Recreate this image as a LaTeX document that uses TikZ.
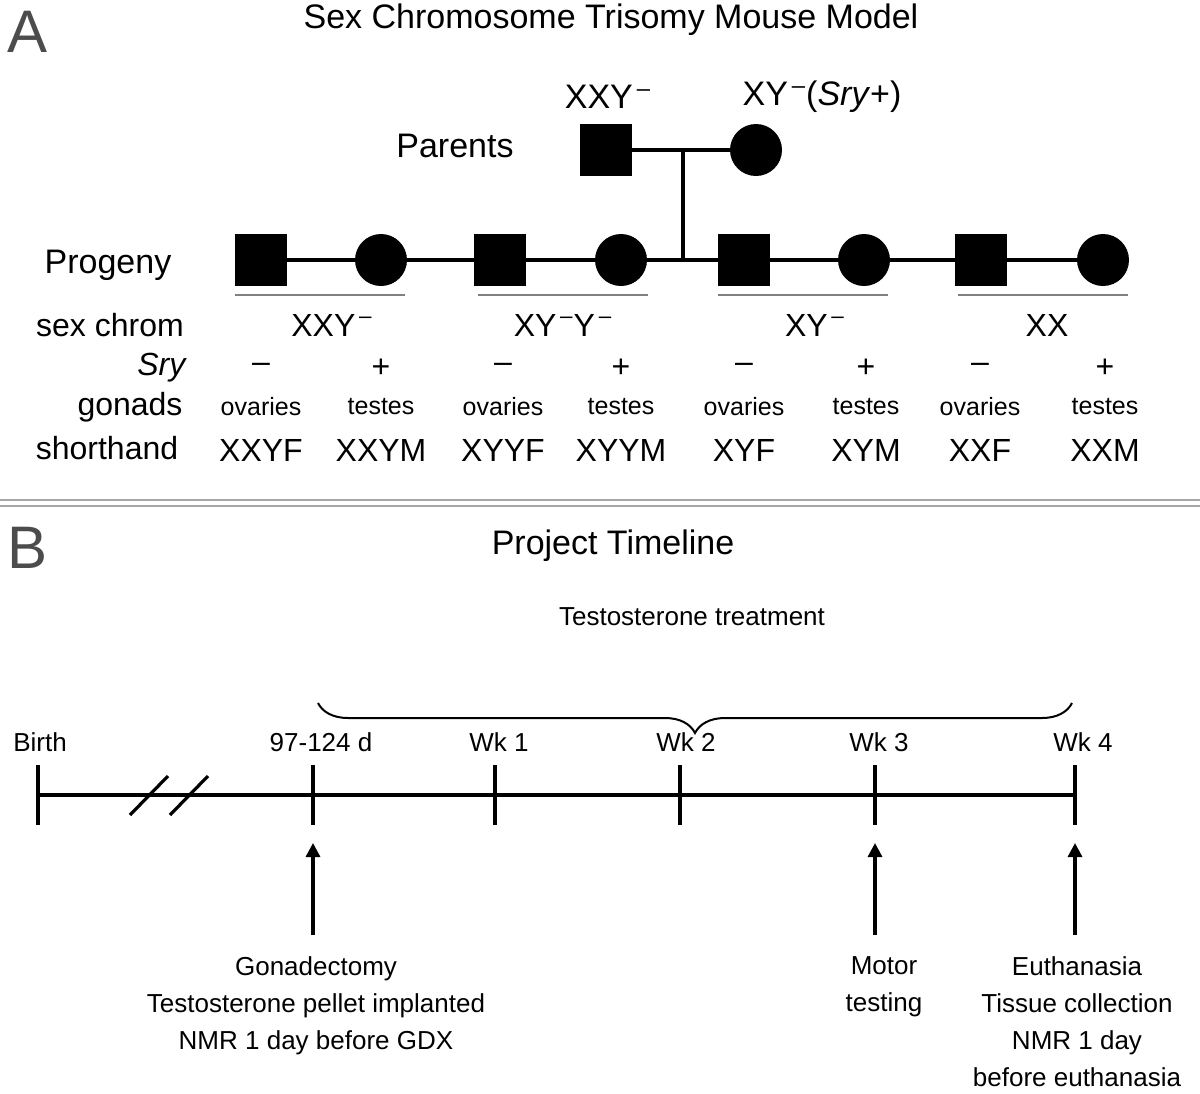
\documentclass[tikz,border=0pt]{standalone}
\usepackage{fontspec}
\setmainfont{Liberation Sans}
\usetikzlibrary{decorations.pathreplacing,arrows.meta}
\newcommand{\ym}{Y\textsuperscript{\,–}}
\begin{document}
\begin{tikzpicture}[x=0.5pt,y=-0.5pt,
  sq/.style={fill=black,minimum size=26pt,inner sep=0,draw=none},
  ci/.style={fill=black,circle,minimum size=26pt,inner sep=0,draw=none},
  ln/.style={line width=1.6pt},
  ul/.style={gray,line width=1.2pt},
  big/.style={font=\fontsize{17}{20}\selectfont},
  med/.style={font=\fontsize{16}{19}\selectfont},
  sm/.style={font=\fontsize{12.5}{15}\selectfont},
  tl/.style={font=\fontsize{13}{15.6}\selectfont,align=center},
  lab/.style={font=\fontsize{30}{30}\selectfont,text=black!70}]
\useasboundingbox (0,0) rectangle (1200,1093);
\node[lab] (A) at (28,32) {A};
\node[lab] (B) at (28,548) {B};
\node[big] (t1) at (611,20) {Sex Chromosome Trisomy Mouse Model};
\node[big] (par) at (455,146) {Parents};
\node[big] (pl1) at (608,97) {XX\ym};
\node[big] (pl2) at (822,97) {X\ym(\textit{Sry}+)};
\node[sq] (pf) at (606,150) {};
\node[ci] (pm) at (756,150) {};
\draw[ln] (pf) -- (pm);
\coordinate (mid) at (683,150);
\coordinate (dn) at (683,260);
\draw[ln] (mid) -- (dn);
\node[big] (prog) at (108,265) {Progeny};
\foreach \i/\a/\b in {1/261/381,2/500/621,3/744/864,4/981/1103}{
  \node[sq] (s\i) at (\a,260) {};
  \node[ci] (c\i) at (\b,260) {};
}
\draw[ln] (s1) -- (c1) -- (s2) -- (c2) -- (s3) -- (c3) -- (s4) -- (c4);
\foreach \i/\a/\b in {1/235/405,2/478/648,3/718/888,4/958/1128}{
  \coordinate (u\i a) at (\a,295); \coordinate (u\i b) at (\b,295);
  \draw[ul] (u\i a) -- (u\i b);
}
\node[med] (scl) at (110,325) {sex chrom};
\node[med] (g1) at (332,325) {XX\ym};
\node[med] (g2) at (563,325) {X\ym\ym};
\node[med] (g3) at (815,325) {X\ym};
\node[med] (g4) at (1047,325) {XX};
\node[med,anchor=east] (sryl) at (194,368) {\textit{Sry}};
\node[med] (gonl) at (130,407) {gonads};
\node[med] (shl) at (107,448) {shorthand};
\foreach \i/\a/\b/\f/\m in {1/261/381/XXYF/XXYM,2/503/621/XYYF/XYYM,3/744/866/XYF/XYM,4/980/1105/XXF/XXM}{
  \node[med] (mi\i) at (\a,368) {–};
  \node[med] (pl\i) at (\b,368) {+};
  \node[sm] (ov\i) at (\a,407) {ovaries};
  \node[sm] (te\i) at (\b,407) {testes};
  \node[med] (sf\i) at (\a,450) {\f};
  \node[med] (sm\i) at (\b,450) {\m};
}
\coordinate (h1a) at (0,500); \coordinate (h1b) at (1200,500);
\coordinate (h2a) at (0,506); \coordinate (h2b) at (1200,506);
\draw[gray!70,line width=0.6pt] (h1a) -- (h1b) (h2a) -- (h2b);
% timeline
\node[big] (t2) at (613,546) {Project Timeline};
\node[tl] (tt) at (692,617) {Testosterone treatment};
\coordinate (bra) at (318,703); \coordinate (brb) at (1072,703);
\draw[line width=1pt,decorate,decoration={brace,amplitude=15pt,mirror}] (bra) -- (brb);
\coordinate (ax0) at (38,795); \coordinate (ax1) at (1075,795);
\draw[ln] (ax0) -- (ax1);
\foreach \n/\x/\t/\lx in {0/38/Birth/40,1/313/97-124 d/321,2/495/Wk 1/499,3/680/Wk 2/686,4/875/Wk 3/879,5/1075/Wk 4/1083}{
  \coordinate (k\n a) at (\x,765); \coordinate (k\n b) at (\x,825);
  \draw[ln] (k\n a) -- (k\n b);
  \node[tl] (kl\n) at (\lx,742) {\t};
}
\coordinate (sl1a) at (130,815); \coordinate (sl1b) at (168,776);
\coordinate (sl2a) at (170,815); \coordinate (sl2b) at (208,776);
\draw[ln] (sl1a) -- (sl1b) (sl2a) -- (sl2b);
\foreach \n/\x in {1/313,4/875,5/1075}{
  \coordinate (ar\n a) at (\x,935); \coordinate (ar\n b) at (\x,843);
  \draw[ln,-{Triangle[length=7pt,width=7pt]}] (ar\n a) -- (ar\n b);
}
\node[tl,font=\fontsize{13}{18.5}\selectfont,anchor=north] (e1) at (316,950) {Gonadectomy\\Testosterone pellet implanted\\NMR 1 day before GDX};
\node[tl,font=\fontsize{13}{18.5}\selectfont,anchor=north] (e2) at (884,950) {Motor\\testing};
\node[tl,font=\fontsize{13}{18.5}\selectfont,anchor=north] (e3) at (1077,950) {Euthanasia\\Tissue collection\\NMR 1 day\\before euthanasia};
\end{tikzpicture}
\end{document}
